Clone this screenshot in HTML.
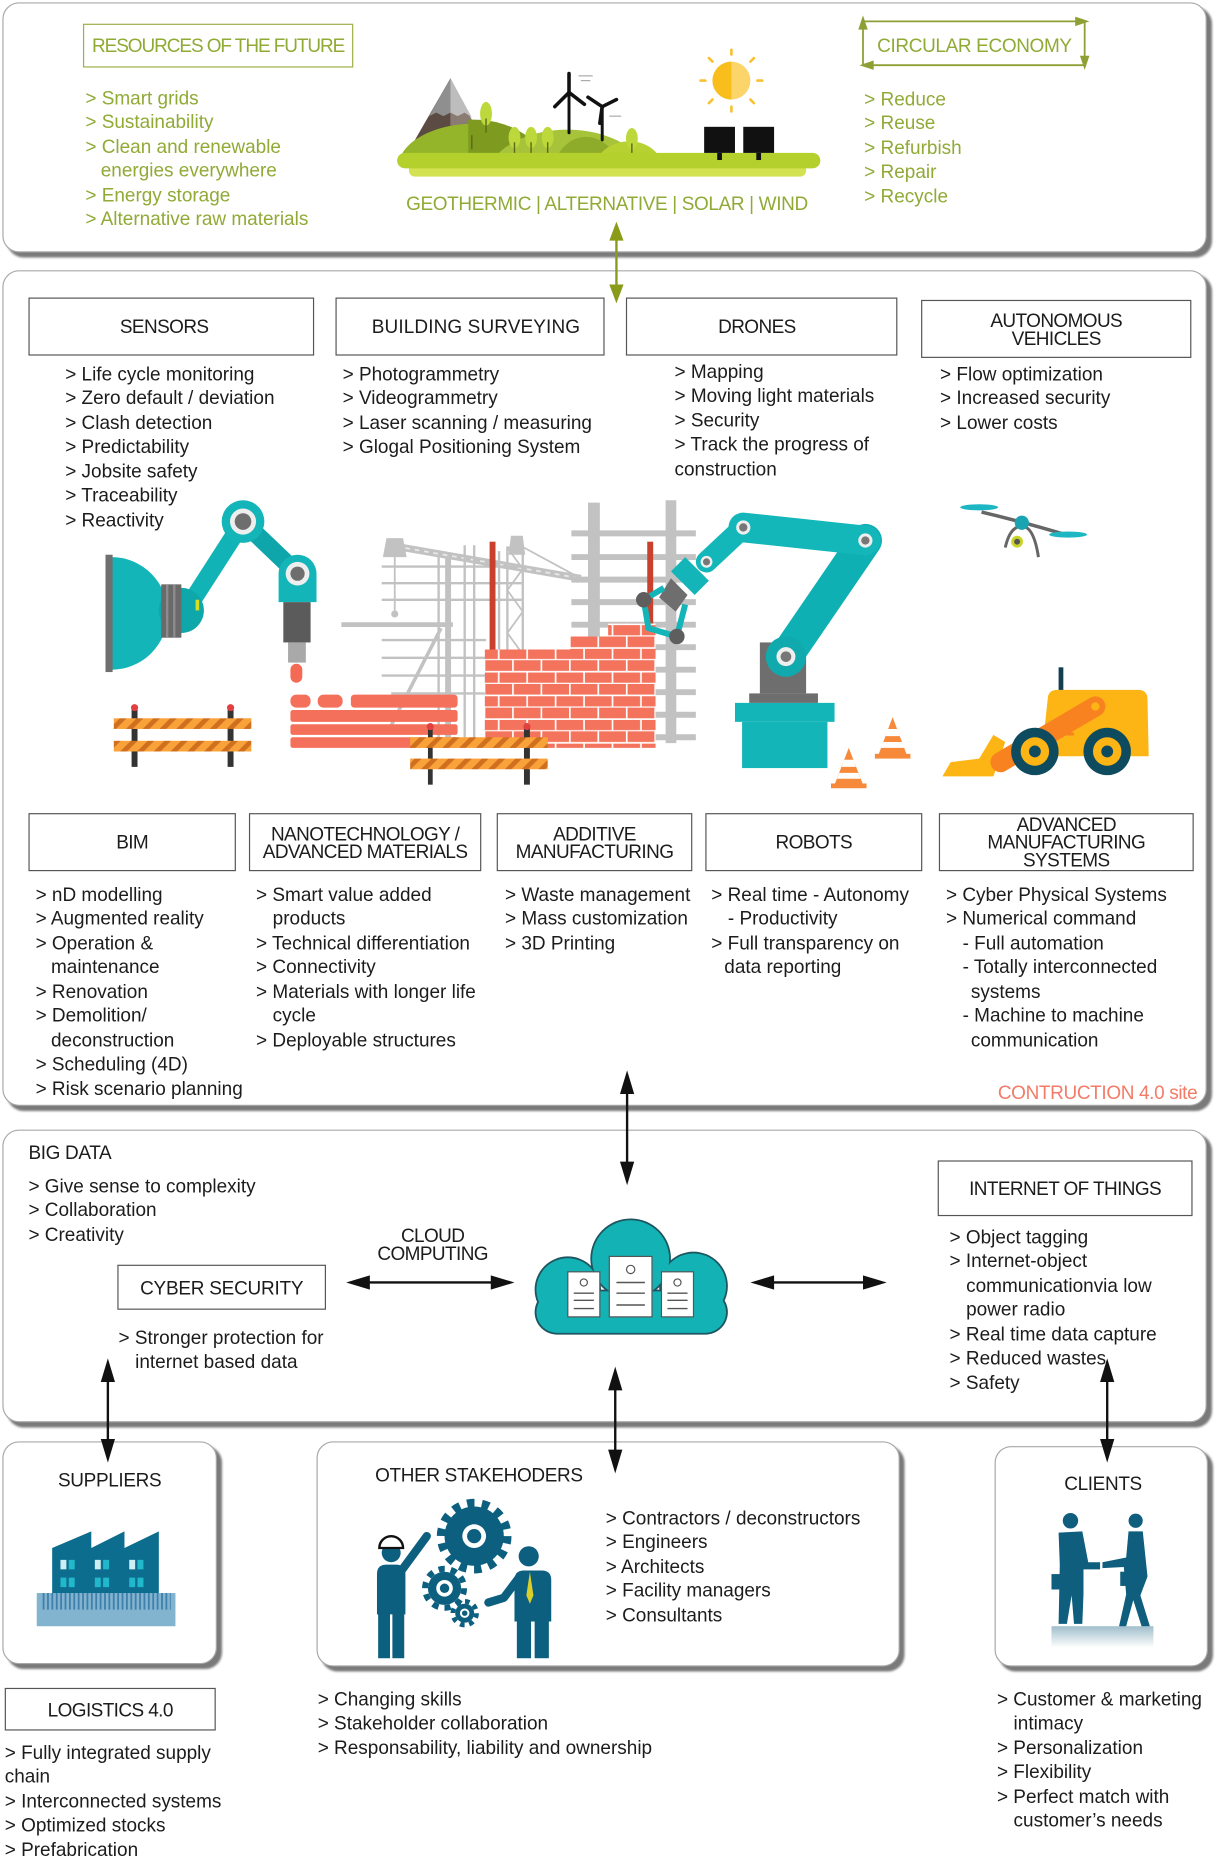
<!DOCTYPE html>
<html><head><meta charset="utf-8">
<style>
html,body{margin:0;padding:0;background:#fff;}
body{width:1221px;height:1855px;overflow:hidden;position:relative;}
#s{position:absolute;left:0;top:0;width:1030px;height:1565px;transform-origin:0 0;transform:scale(1.18544,1.1853);font-family:"Liberation Sans",Arial,sans-serif;color:#1c1c1c;}
.p{position:absolute;border:1.4px solid #a8a8a8;border-radius:14px;background:#fff;box-shadow:4px 4px 2px #7a7a7a;box-sizing:border-box;}
.b{position:absolute;border:1.4px solid #555;display:flex;align-items:center;justify-content:center;text-align:center;font-size:16px;letter-spacing:-0.5px;line-height:15px;box-sizing:border-box;padding-top:2px;}
.l{position:absolute;font-size:16px;line-height:20.5px;white-space:nowrap;letter-spacing:0;margin-top:2px}
.i{padding-left:14px}
.g{color:#90aa36}
.t{position:absolute;font-size:16px;line-height:20px;letter-spacing:-0.3px;white-space:nowrap;margin-top:2px}
svg{position:absolute;left:0;top:0}
</style></head>
<body><div id="s">

<div class="p" style="left:2px;top:2px;width:1016px;height:211px"></div>
<div class="p" style="left:2px;top:228px;width:1016px;height:705px"></div>
<div class="p" style="left:2px;top:953px;width:1016px;height:247px"></div>
<div class="p" style="left:2px;top:1216px;width:181px;height:188px"></div>
<div class="p" style="left:267px;top:1216px;width:492px;height:190px"></div>
<div class="p" style="left:839px;top:1220px;width:180px;height:186px"></div>

<svg width="1030" height="1565" viewBox="0 0 1030 1565">
<defs>
<pattern id="brick" patternUnits="userSpaceOnUse" width="24" height="20" x="0" y="537">
 <rect width="24" height="20" fill="#f4735d"/>
 <rect y="9" width="24" height="1.4" fill="#fff"/>
 <rect y="19" width="24" height="1.4" fill="#fff"/>
 <rect x="0" y="0" width="1.4" height="10" fill="#fff"/>
 <rect x="12" y="10" width="1.4" height="10" fill="#fff"/>
</pattern>
<pattern id="stripe" patternUnits="userSpaceOnUse" width="10" height="10" patternTransform="rotate(45)">
 <rect width="10" height="10" fill="#f9a23a"/>
 <rect width="4" height="10" fill="#d06f1e"/>
</pattern>
<linearGradient id="fade" x1="0" y1="0" x2="0" y2="1">
 <stop offset="0" stop-color="#0f5e7e" stop-opacity="0.8"/><stop offset="1" stop-color="#0f5e7e" stop-opacity="0"/>
</linearGradient>
</defs>

<!-- ===== Landscape ===== -->
<polygon points="380,66 342,132 380,132" fill="#5c4b43"/>
<polygon points="380,66 380,132 414,132" fill="#8a7b73"/>
<polygon points="380,66 362,98 368,95 374,98 380,95" fill="#8f8f8f"/>
<polygon points="380,66 380,95 386,98 392,95 398,99" fill="#bdbdbd"/>
<path d="M338,132 C350,104 420,90 458,126 L458,132 Z" fill="#94b42a"/>
<path d="M395,101 C420,100 440,108 458,126 L458,132 L395,132 Z" fill="#7e9b20"/>
<path d="M418,132 C440,106 505,98 540,132 Z" fill="#a6c33a"/>
<path d="M470,132 C480,112 505,108 520,132 Z" fill="#8eab2a"/>
<path d="M505,132 C515,116 545,114 556,132 Z" fill="#b6d131"/>
<g fill="#bcd83a">
<ellipse cx="410" cy="96" rx="5" ry="10"/>
<ellipse cx="434" cy="116" rx="5" ry="9"/>
<ellipse cx="448" cy="116" rx="5" ry="9"/>
<ellipse cx="462" cy="116" rx="5" ry="9"/>
<ellipse cx="533" cy="117" rx="5" ry="9"/>
</g>
<g stroke="#5d6a1c" stroke-width="1.2">
<line x1="410" y1="100" x2="410" y2="112"/>
<line x1="434" y1="120" x2="434" y2="130"/>
<line x1="448" y1="120" x2="448" y2="130"/>
<line x1="462" y1="120" x2="462" y2="130"/>
<line x1="533" y1="121" x2="533" y2="131"/>
<line x1="398" y1="114" x2="398" y2="126"/>
</g>
<g stroke="#111" stroke-linecap="round">
<line x1="480" y1="78" x2="480" y2="112" stroke-width="2.5"/>
<line x1="480" y1="78" x2="480" y2="62" stroke-width="3"/>
<line x1="480" y1="78" x2="468" y2="90" stroke-width="3"/>
<line x1="480" y1="78" x2="493" y2="88" stroke-width="3"/>
<line x1="508" y1="90" x2="508" y2="118" stroke-width="2.5"/>
<line x1="508" y1="90" x2="520" y2="84" stroke-width="3"/>
<line x1="508" y1="90" x2="496" y2="82" stroke-width="3"/>
<line x1="508" y1="90" x2="506" y2="104" stroke-width="3"/>
</g>
<g stroke="#aaa" stroke-width="1"><line x1="488" y1="64" x2="500" y2="64"/><line x1="490" y1="68" x2="498" y2="68"/><line x1="514" y1="98" x2="524" y2="98"/></g>
<rect x="345" y="138" width="335" height="11" rx="5" fill="#d3e253"/>
<rect x="335" y="129" width="357" height="13" rx="6.5" fill="#b3d02c"/>
<!-- sun -->
<circle cx="617" cy="68" r="16" fill="#fbd46a"/>
<path d="M617,52 A16,16 0 0 0 617,84 Z" fill="#f9bd1c"/>
<g stroke="#f9c030" stroke-width="2.2" stroke-linecap="round">
<line x1="617" y1="46" x2="617" y2="42"/><line x1="617" y1="90" x2="617" y2="94"/>
<line x1="595" y1="68" x2="591" y2="68"/><line x1="639" y1="68" x2="643" y2="68"/>
<line x1="601" y1="52" x2="598" y2="49"/><line x1="633" y1="52" x2="636" y2="49"/>
<line x1="601" y1="84" x2="598" y2="87"/><line x1="633" y1="84" x2="636" y2="87"/>
</g>
<rect x="594" y="107" width="26" height="22" fill="#111"/>
<rect x="627" y="107" width="26" height="22" fill="#111"/>
<rect x="605" y="129" width="4" height="6" fill="#111"/>
<rect x="638" y="129" width="4" height="6" fill="#111"/>

<!-- green arrow -->
<line x1="520" y1="198" x2="520" y2="246" stroke="#8a9b1a" stroke-width="2"/>
<polygon points="520,187 514,203 526,203" fill="#8a9b1a"/>
<polygon points="520,256 514,240 526,240" fill="#8a9b1a"/>

<!-- circular economy box -->
<g stroke="#8ea034" stroke-width="1.5" fill="none">
<line x1="728" y1="18" x2="910" y2="18"/>
<line x1="915" y1="18" x2="915" y2="50"/>
<line x1="735" y1="55" x2="915" y2="55"/>
<line x1="728" y1="22" x2="728" y2="55"/>
</g>
<g fill="#8ea034">
<polygon points="728,13 724,25 732,25"/>
<polygon points="919,18 907,14 907,22"/>
<polygon points="915,59 911,47 919,47"/>
<polygon points="725,55 737,51 737,59"/>
</g>

<!-- ===== Construction site ===== -->
<g stroke="#c2c2c2" fill="none">
<line x1="334" y1="461" x2="490" y2="488" stroke-width="6"/>
<line x1="334" y1="461" x2="490" y2="488" stroke="#e8e8e8" stroke-width="1.5" stroke-dasharray="4 4"/>
<line x1="442" y1="462" x2="490" y2="488" stroke-width="1.5"/>
<line x1="333" y1="468" x2="333" y2="515" stroke-width="1.5"/>
<line x1="288" y1="527" x2="382" y2="527" stroke-width="4"/>
<line x1="370" y1="470" x2="370" y2="630" stroke-width="2"/>
<line x1="378" y1="470" x2="378" y2="630" stroke-width="5"/>
<line x1="392" y1="460" x2="392" y2="630" stroke-width="2"/>
<line x1="400" y1="460" x2="400" y2="630" stroke-width="2"/>
<line x1="421" y1="465" x2="421" y2="630" stroke-width="2"/>
<line x1="322" y1="478" x2="440" y2="478" stroke-width="2"/>
<line x1="322" y1="492" x2="440" y2="492" stroke-width="2"/>
<line x1="322" y1="506" x2="440" y2="506" stroke-width="2"/>
<line x1="322" y1="540" x2="410" y2="540" stroke-width="2"/>
<line x1="322" y1="555" x2="410" y2="555" stroke-width="2"/>
<line x1="322" y1="570" x2="410" y2="570" stroke-width="2"/>
<line x1="330" y1="585" x2="410" y2="585" stroke-width="2"/>
<line x1="330" y1="612" x2="372" y2="530" stroke-width="3"/>
<rect x="428" y="462" width="13" height="100" stroke-width="2"/>
<path d="M428,462 L441,480 L428,498 L441,516 L428,534 L441,552" stroke-width="1.5"/>
<line x1="501" y1="424" x2="501" y2="630" stroke-width="10"/>
<line x1="566" y1="422" x2="566" y2="627" stroke-width="9"/>
<line x1="482" y1="450" x2="587" y2="450" stroke-width="5"/>
<line x1="482" y1="470" x2="587" y2="470" stroke-width="5"/>
<line x1="482" y1="489" x2="587" y2="489" stroke-width="5"/>
<line x1="482" y1="508" x2="587" y2="508" stroke-width="5"/>
<line x1="482" y1="527" x2="587" y2="527" stroke-width="5"/>
<line x1="540" y1="546" x2="587" y2="546" stroke-width="5"/>
<line x1="540" y1="565" x2="587" y2="565" stroke-width="5"/>
<line x1="540" y1="584" x2="587" y2="584" stroke-width="5"/>
<line x1="540" y1="603" x2="587" y2="603" stroke-width="5"/>
<line x1="540" y1="622" x2="587" y2="622" stroke-width="5"/>
</g>
<polygon points="326,454 340,454 343,470 323,470" fill="#c2c2c2"/>
<polygon points="431,452 441,452 443,468 429,468" fill="#c2c2c2"/>
<circle cx="333" cy="518" r="3" fill="#c2c2c2"/>
<rect x="413" y="457" width="5" height="106" fill="#c9412c"/>
<rect x="546" y="457" width="5" height="69" fill="#c9412c"/>
<polygon points="409,548 481,548 481,537 513,537 513,526 553,526 553,631 409,631" fill="url(#brick)"/>
<g fill="#f4705a">
<rect x="245" y="586" width="17" height="11" rx="5"/>
<rect x="268" y="586" width="21" height="11" rx="5"/>
<rect x="296" y="586" width="90" height="11" rx="3"/>
<rect x="245" y="599" width="141" height="10" rx="2"/>
<rect x="245" y="611" width="141" height="9" rx="2"/>
<rect x="245" y="622" width="141" height="9" rx="2"/>
</g>

<!-- robot 1 -->
<path d="M94,470 A47.5,47.5 0 0 1 94,565 Z" fill="#13b5b8"/>
<rect x="89" y="468" width="6" height="99" fill="#6f6f6f"/>
<line x1="160" y1="510" x2="205" y2="440" stroke="#12b3b6" stroke-width="15" stroke-linecap="round"/>
<circle cx="153" cy="515" r="19" fill="#0ea8ab"/>
<rect x="136" y="493" width="17" height="45" fill="#6a6a6a"/>
<rect x="140" y="493" width="2" height="45" fill="#8c8c8c"/>
<rect x="146" y="493" width="2" height="45" fill="#8c8c8c"/>
<rect x="165" y="506" width="3" height="9" fill="#d8df20"/>
<line x1="205" y1="440" x2="251" y2="484" stroke="#0ea6aa" stroke-width="15"/>
<circle cx="205" cy="440" r="18" fill="#13b5b8"/>
<circle cx="205" cy="440" r="11" fill="#eee"/>
<circle cx="205" cy="440" r="7" fill="#6e6e6e"/>
<path d="M235,508 V484 A16,16 0 0 1 267,484 V508 Z" fill="#13b5b8"/>
<circle cx="251" cy="484" r="10" fill="#eee"/><circle cx="251" cy="484" r="6" fill="#6e6e6e"/>
<rect x="239" y="508" width="23" height="34" fill="#5b5b5b"/>
<rect x="243" y="542" width="15" height="17" fill="#a9a9a9"/>
<rect x="245" y="560" width="10" height="16" rx="5" fill="#f46a55"/>

<!-- barricades -->
<rect x="111" y="596" width="5" height="51" fill="#333"/>
<rect x="192" y="596" width="5" height="51" fill="#333"/>
<circle cx="113.5" cy="597" r="3" fill="#e04040"/><circle cx="194.5" cy="597" r="3" fill="#e04040"/>
<rect x="96" y="606" width="116" height="9" fill="url(#stripe)"/>
<rect x="96" y="625" width="116" height="9" fill="url(#stripe)"/>
<rect x="361" y="612" width="4" height="50" fill="#333"/>
<rect x="442" y="612" width="5" height="50" fill="#333"/>
<circle cx="363" cy="613" r="3" fill="#e04040"/><circle cx="444.5" cy="613" r="3" fill="#e04040"/>
<rect x="346" y="622" width="116" height="9" fill="url(#stripe)"/>
<rect x="346" y="640" width="116" height="9" fill="url(#stripe)"/>

<!-- robot 2 -->
<rect x="620" y="593" width="84" height="16" fill="#13b5b8"/>
<rect x="626" y="609" width="72" height="39" fill="#13b5b8"/>
<rect x="632" y="585" width="58" height="8" fill="#6e6e6e"/>
<rect x="641" y="542" width="39" height="43" fill="#6e6e6e"/>
<line x1="663" y1="554" x2="730" y2="456" stroke="#0fb0b4" stroke-width="28" stroke-linecap="round"/>
<line x1="730" y1="456" x2="627" y2="445" stroke="#13b7ba" stroke-width="25" stroke-linecap="round"/>
<line x1="627" y1="445" x2="596" y2="474" stroke="#13b7ba" stroke-width="18" stroke-linecap="round"/>
<circle cx="663" cy="554" r="17" fill="#10a9ad"/><circle cx="663" cy="554" r="8" fill="#eee"/><circle cx="663" cy="554" r="4.5" fill="#777"/>
<circle cx="730" cy="456" r="6" fill="#eee"/><circle cx="730" cy="456" r="3.5" fill="#777"/>
<circle cx="627" cy="445" r="6" fill="#eee"/><circle cx="627" cy="445" r="3.5" fill="#777"/>
<circle cx="596" cy="474" r="5" fill="#eee"/><circle cx="596" cy="474" r="3" fill="#777"/>
<polygon points="578,470 598,490 586,502 566,482" fill="#13b5b8"/>
<polygon points="566,488 580,502 570,516 556,504" fill="#6e6e6e"/>
<polyline points="560,496 543,506 547,530 571,537 578,510" fill="none" stroke="#13b5b8" stroke-width="5" stroke-linejoin="round"/>
<circle cx="543" cy="506" r="6.5" fill="#5e5e5e"/>
<circle cx="571" cy="537" r="6.5" fill="#5e5e5e"/>

<!-- cones -->
<polygon points="716,631 704,662 728,662" fill="#f7893a"/>
<polygon points="712,641 720,641 722,647 710,647" fill="#fff"/>
<polygon points="708,652 724,652 726,657 706,657" fill="#fff"/>
<rect x="701" y="661" width="30" height="4" fill="#f7893a"/>
<polygon points="753,605 741,637 765,637" fill="#f7893a"/>
<polygon points="749,615 757,615 759,621 747,621" fill="#fff"/>
<polygon points="745,626 761,626 763,631 743,631" fill="#fff"/>
<rect x="738" y="636" width="30" height="4" fill="#f7893a"/>

<!-- drone -->
<path d="M828,432 Q862,440 902,452" stroke="#666" stroke-width="3" fill="none"/>
<path d="M848,462 Q852,444 862,444 Q872,444 876,470" stroke="#666" stroke-width="2.5" fill="none"/>
<ellipse cx="826" cy="428" rx="16" ry="2.6" fill="#1db7c4"/>
<ellipse cx="901" cy="451" rx="16" ry="2.6" fill="#1db7c4"/>
<circle cx="862" cy="441" r="6" fill="#1aa3b0"/>
<circle cx="858" cy="457" r="5" fill="#c9d32a"/>
<circle cx="858" cy="457" r="2.5" fill="#555"/>

<!-- bulldozer -->
<rect x="893" y="563" width="4" height="27" fill="#123e52"/>
<path d="M880,625 L884,588 Q885,582 892,582 L960,582 Q968,582 968,590 L969,638 L862,638 L862,620 Z" fill="#fdb515"/>
<path d="M795,655 L838,655 L848,626 L838,620 L826,640 L802,643 Z" fill="#fdb515"/>
<line x1="844" y1="643" x2="924" y2="596" stroke="#f7821f" stroke-width="17" stroke-linecap="round"/>
<circle cx="924" cy="596" r="3.5" fill="#fdb515"/>
<circle cx="873" cy="634" r="20" fill="#0e4b5e"/><circle cx="873" cy="634" r="12" fill="#fdb515"/><circle cx="873" cy="634" r="5" fill="#0e4b5e"/>
<circle cx="934" cy="634" r="20" fill="#0e4b5e"/><circle cx="934" cy="634" r="12" fill="#fdb515"/><circle cx="934" cy="634" r="5" fill="#0e4b5e"/>
<rect x="892" y="612" width="14" height="2.5" fill="#f7821f"/><rect x="892" y="618" width="14" height="2.5" fill="#f7821f"/>

<!-- ===== Arrows (black) ===== -->
<g stroke="#111" stroke-width="2">
<line x1="529" y1="920" x2="529" y2="983"/>
<line x1="91" y1="1163" x2="91" y2="1217"/>
<line x1="519" y1="1170" x2="519" y2="1226"/>
<line x1="934" y1="1163" x2="934" y2="1217"/>
<line x1="309" y1="1082" x2="417" y2="1082"/>
<line x1="650" y1="1082" x2="731" y2="1082"/>
</g>
<g fill="#111">
<polygon points="529,903 523,923 535,923"/><polygon points="529,1000 523,980 535,980"/>
<polygon points="91,1146 85,1166 97,1166"/><polygon points="91,1234 85,1214 97,1214"/>
<polygon points="519,1153 513,1173 525,1173"/><polygon points="519,1243 513,1223 525,1223"/>
<polygon points="934,1146 928,1166 940,1166"/><polygon points="934,1234 928,1214 940,1214"/>
<polygon points="292,1082 312,1076 312,1088"/><polygon points="434,1082 414,1076 414,1088"/>
<polygon points="633,1082 653,1076 653,1088"/><polygon points="748,1082 728,1076 728,1088"/>
</g>

<!-- cloud -->
<g fill="#1e5560">
<circle cx="479" cy="1088" r="28"/><circle cx="532" cy="1062" r="34"/><circle cx="585" cy="1085" r="29"/>
<rect x="451" y="1088" width="163" height="38" rx="19"/>
</g>
<g fill="#13b3b5">
<circle cx="479" cy="1088" r="26.5"/><circle cx="532" cy="1062" r="32.5"/><circle cx="585" cy="1085" r="27.5"/>
<rect x="452.5" y="1089.5" width="160" height="35" rx="17.5"/>
</g>
<g fill="#fff" stroke="#555" stroke-width="1">
<rect x="479" y="1073" width="27" height="38"/>
<rect x="514" y="1060" width="36" height="51"/>
<rect x="558" y="1073" width="27" height="38"/>
<circle cx="492.5" cy="1082" r="3"/><circle cx="532" cy="1071" r="3.5"/><circle cx="571.5" cy="1082" r="3"/>
</g>
<g stroke="#555" stroke-width="1.2">
<line x1="484" y1="1091" x2="501" y2="1091"/><line x1="484" y1="1097" x2="501" y2="1097"/><line x1="484" y1="1104" x2="501" y2="1104"/>
<line x1="520" y1="1082" x2="544" y2="1082"/><line x1="520" y1="1091" x2="544" y2="1091"/><line x1="520" y1="1101" x2="544" y2="1101"/>
<line x1="563" y1="1091" x2="580" y2="1091"/><line x1="563" y1="1097" x2="580" y2="1097"/><line x1="563" y1="1104" x2="580" y2="1104"/>
</g>

<!-- factory -->
<path d="M44,1345 L44,1306 L77,1292 L77,1306 L105,1292 L105,1306 L134,1292 L134,1345 Z" fill="#0d6d8e"/>
<g fill="#cdeef2">
<rect x="51" y="1316" width="5" height="8"/><rect x="80" y="1316" width="5" height="8"/><rect x="109" y="1316" width="5" height="8"/>
</g>
<g fill="#22b8cc">
<rect x="58" y="1316" width="5" height="8"/><rect x="87" y="1316" width="5" height="8"/><rect x="116" y="1316" width="5" height="8"/>
<rect x="51" y="1331" width="5" height="8"/><rect x="80" y="1331" width="5" height="8"/><rect x="109" y="1331" width="5" height="8"/>
<rect x="58" y="1331" width="5" height="8"/><rect x="87" y="1331" width="5" height="8"/><rect x="116" y="1331" width="5" height="8"/>
</g>
<rect x="31" y="1344" width="117" height="28" fill="#82b4d0"/>
<line x1="36" y1="1351" x2="144" y2="1351" stroke="#3f7fab" stroke-width="14" stroke-dasharray="1.5 2.2"/>

<!-- stakeholders -->
<g fill="#0d5f7f">
<circle cx="400" cy="1296" r="28" fill="none" stroke="#0d5f7f" stroke-width="7" stroke-dasharray="6.3 6.27"/>
<circle cx="400" cy="1296" r="25"/>
<circle cx="375" cy="1340" r="16.5" fill="none" stroke="#0d5f7f" stroke-width="5" stroke-dasharray="5.2 5.17"/>
<circle cx="375" cy="1340" r="14"/>
<circle cx="392" cy="1361" r="10" fill="none" stroke="#0d5f7f" stroke-width="4" stroke-dasharray="3.9 3.95"/>
<circle cx="392" cy="1361" r="8"/>
<circle cx="330" cy="1310" r="8"/>
<path d="M318,1328 Q318,1320 326,1320 L334,1320 Q342,1320 342,1328 L342,1362 L318,1362 Z"/>
<rect x="319" y="1360" width="10" height="39"/><rect x="331" y="1360" width="10" height="39"/>
<circle cx="446" cy="1313" r="8.5"/>
<path d="M434,1333 Q434,1325 442,1325 L457,1325 Q465,1325 465,1333 L465,1368 L434,1368 Z"/>
<rect x="436" y="1366" width="12" height="33"/><rect x="451" y="1366" width="12" height="33"/>
</g>
<line x1="338" y1="1326" x2="360" y2="1296" stroke="#0d5f7f" stroke-width="7" stroke-linecap="round"/>
<polyline points="437,1332 425,1348 412,1352" fill="none" stroke="#0d5f7f" stroke-width="7" stroke-linecap="round" stroke-linejoin="round"/>
<path d="M320,1306 A10,10 0 0 1 340,1306 Z" fill="#fff" stroke="#111" stroke-width="2"/>
<circle cx="400" cy="1296" r="10" fill="#fff"/><circle cx="400" cy="1296" r="6" fill="#0d5f7f"/>
<circle cx="375" cy="1340" r="7" fill="#fff"/><circle cx="375" cy="1340" r="4" fill="#0d5f7f"/>
<circle cx="392" cy="1361" r="4" fill="#fff"/><circle cx="392" cy="1361" r="2.3" fill="#0d5f7f"/>
<polygon points="447,1326 444,1346 447,1353 450,1346" fill="#d8cf2a"/>

<!-- clients -->
<g fill="#0f5e7e">
<circle cx="903" cy="1283" r="6.5"/>
<path d="M893,1293 L913,1292 L918,1318 L928,1318 L928,1324 L914,1324 L914,1345 L913,1370 L906,1370 L904,1346 L900,1370 L893,1370 L894,1320 Z"/>
<rect x="887" y="1328" width="10" height="13"/>
<circle cx="958" cy="1283" r="6"/>
<path d="M952,1292 L964,1292 L968,1330 L962,1346 L970,1372 L963,1372 L956,1350 L950,1372 L944,1372 L950,1345 L948,1322 L930,1323 L930,1318 L950,1314 Z"/>
<rect x="945" y="1326" width="10" height="12"/>
</g>
<rect x="887" y="1372" width="86" height="18" fill="url(#fade)" opacity="0.5"/>
</svg>

<!-- ===== TEXT ===== -->
<div class="b g" style="left:70px;top:20px;width:228px;height:37px;border-color:#9bb044;letter-spacing:-0.9px">RESOURCES OF THE FUTURE</div>
<div class="l g" style="left:72px;top:71.75px">
<div>&gt; Smart grids</div><div>&gt; Sustainability</div><div>&gt; Clean and renewable</div><div style="padding-left:13px">energies everywhere</div><div>&gt; Energy storage</div><div>&gt; Alternative raw materials</div></div>
<div class="t g" style="left:337px;top:161px;width:350px;text-align:center">GEOTHERMIC | ALTERNATIVE | SOLAR | WIND</div>
<div class="t g" style="left:728px;top:28px;width:188px;text-align:center">CIRCULAR ECONOMY</div>
<div class="l g" style="left:729px;top:72.75px">
<div>&gt; Reduce</div><div>&gt; Reuse</div><div>&gt; Refurbish</div><div>&gt; Repair</div><div>&gt; Recycle</div></div>

<div class="b" style="left:24px;top:251px;width:241px;height:49px;padding-right:12px">SENSORS</div>
<div class="b" style="left:283px;top:251px;width:227px;height:49px;letter-spacing:0.1px;padding-left:10px">BUILDING SURVEYING</div>
<div class="b" style="left:528px;top:251px;width:229px;height:49px;padding-right:8px">DRONES</div>
<div class="b" style="left:777px;top:253px;width:228px;height:49px">AUTONOMOUS<br>VEHICLES</div>

<div class="l" style="left:55px;top:304.75px">
<div>&gt; Life cycle monitoring</div><div>&gt; Zero default / deviation</div><div>&gt; Clash detection</div><div>&gt; Predictability</div><div>&gt; Jobsite safety</div><div>&gt; Traceability</div><div>&gt; Reactivity</div></div>
<div class="l" style="left:289px;top:304.75px">
<div>&gt; Photogrammetry</div><div>&gt; Videogrammetry</div><div>&gt; Laser scanning / measuring</div><div>&gt; Glogal Positioning System</div></div>
<div class="l" style="left:569px;top:302.75px">
<div>&gt; Mapping</div><div>&gt; Moving light materials</div><div>&gt; Security</div><div>&gt; Track the progress of</div><div>construction</div></div>
<div class="l" style="left:793px;top:304.75px">
<div>&gt; Flow optimization</div><div>&gt; Increased security</div><div>&gt; Lower costs</div></div>

<div class="b" style="left:24px;top:686px;width:175px;height:49px">BIM</div>
<div class="b" style="left:210px;top:686px;width:196px;height:49px;letter-spacing:-0.5px">NANOTECHNOLOGY /<br>ADVANCED MATERIALS</div>
<div class="b" style="left:419px;top:686px;width:165px;height:49px">ADDITIVE<br>MANUFACTURING</div>
<div class="b" style="left:595px;top:686px;width:183px;height:49px">ROBOTS</div>
<div class="b" style="left:792px;top:686px;width:215px;height:49px">ADVANCED<br>MANUFACTURING<br>SYSTEMS</div>

<div class="l" style="left:30px;top:743.75px">
<div>&gt; nD modelling</div><div>&gt; Augmented reality</div><div>&gt; Operation &amp;</div><div style="padding-left:13px">maintenance</div><div>&gt; Renovation</div><div>&gt; Demolition/</div><div style="padding-left:13px">deconstruction</div><div>&gt; Scheduling (4D)</div><div>&gt; Risk scenario planning</div></div>
<div class="l" style="left:216px;top:743.75px">
<div>&gt; Smart value added</div><div class="i">products</div><div>&gt; Technical differentiation</div><div>&gt; Connectivity</div><div>&gt; Materials with longer life</div><div class="i">cycle</div><div>&gt; Deployable structures</div></div>
<div class="l" style="left:426px;top:743.75px">
<div>&gt; Waste management</div><div>&gt; Mass customization</div><div>&gt; 3D Printing</div></div>
<div class="l" style="left:600px;top:743.75px">
<div>&gt; Real time - Autonomy</div><div class="i">- Productivity</div><div>&gt; Full transparency on</div><div style="padding-left:11px">data reporting</div></div>
<div class="l" style="left:798px;top:743.75px">
<div>&gt; Cyber Physical Systems</div><div>&gt; Numerical command</div><div class="i">- Full automation</div><div class="i">- Totally interconnected</div><div style="padding-left:21px">systems</div><div class="i">- Machine to machine</div><div style="padding-left:21px">communication</div></div>
<div class="t" style="right:20px;top:911px;color:#f37b68">CONTRUCTION 4.0 site</div>

<div class="t" style="left:24px;top:962px">BIG DATA</div>
<div class="l" style="left:24px;top:989.75px">
<div>&gt; Give sense to complexity</div><div>&gt; Collaboration</div><div>&gt; Creativity</div></div>
<div class="b" style="left:99px;top:1067px;width:176px;height:38px;letter-spacing:-0.2px">CYBER SECURITY</div>
<div class="l" style="left:100px;top:1117.75px">
<div>&gt; Stronger protection for</div><div class="i">internet based data</div></div>
<div class="b" style="left:290px;top:1035px;width:150px;height:30px;border:none">CLOUD<br>COMPUTING</div>
<div class="b" style="left:791px;top:979px;width:215px;height:47px">INTERNET OF THINGS</div>
<div class="l" style="left:801px;top:1032.75px">
<div>&gt; Object tagging</div><div>&gt; Internet-object</div><div class="i">communicationvia low</div><div class="i">power radio</div><div>&gt; Real time data capture</div><div>&gt; Reduced wastes</div><div>&gt; Safety</div></div>

<div class="t" style="left:2px;top:1238px;width:181px;text-align:center">SUPPLIERS</div>
<div class="t" style="left:294px;top:1234px;width:220px;text-align:center">OTHER STAKEHODERS</div>
<div class="l" style="left:511px;top:1269.75px">
<div>&gt; Contractors / deconstructors</div><div>&gt; Engineers</div><div>&gt; Architects</div><div>&gt; Facility managers</div><div>&gt; Consultants</div></div>
<div class="t" style="left:840px;top:1241px;width:181px;text-align:center">CLIENTS</div>

<div class="b" style="left:4px;top:1424px;width:178px;height:36px">LOGISTICS 4.0</div>
<div class="l" style="left:4px;top:1467.75px">
<div>&gt; Fully integrated supply</div><div>chain</div><div>&gt; Interconnected systems</div><div>&gt; Optimized stocks</div><div>&gt; Prefabrication</div></div>
<div class="l" style="left:268px;top:1422.75px">
<div>&gt; Changing skills</div><div>&gt; Stakeholder collaboration</div><div>&gt; Responsability, liability and ownership</div></div>
<div class="l" style="left:841px;top:1422.75px">
<div>&gt; Customer &amp; marketing</div><div class="i">intimacy</div><div>&gt; Personalization</div><div>&gt; Flexibility</div><div>&gt; Perfect match with</div><div class="i">customer’s needs</div></div>

</div></body></html>
